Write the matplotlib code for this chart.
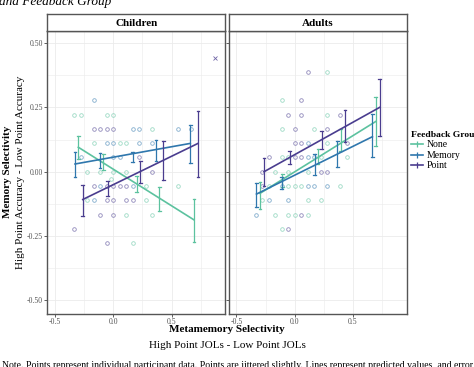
import matplotlib
matplotlib.use("Agg")
import matplotlib.pyplot as plt
from matplotlib.lines import Line2D

plt.rcParams['font.family'] = ['Liberation Serif', 'DejaVu Serif']

groups = ["None", "Memory", "Point"]
colors = {"None": "#5cc29f", "Memory": "#2f77ad", "Point": "#4a3d8f"}
panels = ["Children", "Adults"]

# ---- individual points (x, y) per panel and group ----
s = 1 / 18
child_pts = {
    "None": ([-6*s, -5*s, -1*s, 0, 6*s, -3*s, 1*s, 2*s, -4*s, -2*s, 0, 2*s, -0.02,
              5*s, 10*s, -4*s, 5*s, 2*s, 6*s, 3*s],
             [4*s, 4*s, 4*s, 4*s, 3*s, 2*s, 2*s, 2*s, 0, 0, 0, 0, -0.03,
              -1*s, -1*s, -2*s, -2*s, -3*s, -3*s, -5*s]),
    "Memory": ([-3*s, 3*s, 4*s, 10*s, 12*s, -1*s, 0, 4*s, 6*s, -5*s, 0, 1*s,
                -2*s, 3*s, -3*s],
               [5*s, 3*s, 3*s, 3*s, 3*s, 2*s, 2*s, 2*s, 2*s, 1*s, 1*s, 1*s,
                -1*s, -1*s, -2*s]),
    "Point": ([-3*s, -2*s, -1*s, 0, 4*s, 6*s, -3*s, -1*s, 0, 1*s, 2*s, -1*s, 0, 2*s,
               3*s, -2*s, 0, -6*s, -1*s],
              [3*s, 3*s, 3*s, 3*s, 1*s, 0, -1*s, -1*s, -1*s, -1*s, -1*s, -2*s, -2*s, -2*s,
               -2*s, -3*s, -3*s, -4*s, -5*s]),
}
adult_pts = {
    "None": ([5*s, -2*s, 5*s, -2*s, 3*s, 5*s, -2*s, -1*s, 4*s, 8*s, -3*s, -1*s, 2*s,
              -4*s, -1*s, 0, 1*s, 7*s, -5*s, 2*s, 4*s, -3*s, -1*s, 0, 2*s, -2*s],
             [7*s, 5*s, 4*s, 3*s, 3*s, 2*s, 1*s, 1*s, 1*s, 1*s, 0, 0, 0,
              -1*s, -1*s, -1*s, -1*s, -1*s, -2*s, -2*s, -2*s, -3*s, -3*s, -3*s, -3*s, -4*s]),
    "Memory": ([2*s, 2*s, 3*s, -2*s, 2*s, 3*s, 5*s, -4*s, -1*s, -6*s],
               [2*s, 1*s, 1*s, -1*s, -1*s, -1*s, -1*s, -2*s, -2*s, -3*s]),
    "Point": ([2*s, 1*s, -1*s, 1*s, 7*s, 0, 5*s, 0, 1*s, 8*s, -4*s, 0, 1*s, -5*s,
               4*s, 5*s, -5*s, 1*s, -1*s],
              [7*s, 5*s, 4*s, 4*s, 4*s, 3*s, 3*s, 2*s, 2*s, 2*s, 1*s, 1*s, 1*s, 0,
               0, 0, -1*s, -3*s, -4*s]),
}
child_outlier = (0.87, 0.44)

# ---- fitted lines: (x_start, y_start, x_end, y_end) ----
child_lines = {"None": (-0.30, 0.095, 0.691, -0.187),
               "Memory": (-0.328, 0.030, 0.66, 0.110),
               "Point": (-0.262, -0.108, 0.726, 0.110)}
adult_lines = {"None": (-0.297, -0.084, 0.694, 0.195),
               "Memory": (-0.328, -0.087, 0.666, 0.136),
               "Point": (-0.263, 0.0, 0.728, 0.25)}

# ---- error bars: x, low, high ----
child_err = {
    "None": ([-0.30, -0.086, 0.20, 0.394, 0.691],
             [0.049, 0.007, -0.080, -0.154, -0.272],
             [0.140, 0.069, -0.016, -0.058, -0.106]),
    "Memory": ([-0.328, -0.114, 0.166, 0.366, 0.66],
               [-0.022, 0.014, 0.039, 0.043, 0.032],
               [0.078, 0.074, 0.078, 0.125, 0.182]),
    "Point": ([-0.262, -0.048, 0.232, 0.429, 0.726],
              [-0.171, -0.095, -0.044, -0.032, -0.019],
              [-0.051, -0.035, 0.043, 0.118, 0.235]),
}
adult_err = {
    "None": ([-0.297, -0.106, 0.20, 0.394, 0.694],
             [-0.143, -0.058, 0.030, 0.082, 0.101],
             [-0.041, -0.009, 0.088, 0.166, 0.292]),
    "Memory": ([-0.328, -0.111, 0.171, 0.366, 0.666],
               [-0.136, -0.067, -0.012, 0.017, 0.056],
               [-0.044, -0.019, 0.069, 0.121, 0.224]),
    "Point": ([-0.263, -0.043, 0.231, 0.431, 0.728],
              [-0.054, 0.030, 0.088, 0.117, 0.140],
              [0.053, 0.082, 0.160, 0.240, 0.361]),
}

yticks = [-0.50, -0.25, 0.00, 0.25, 0.50]
ytick_labels = ["-0.50", "-0.25", "0.00", "0.25", "0.50"]
xticks = [-0.5, 0.0, 0.5]
xtick_labels = ["-0.5", "0.0", "0.5"]

W, H = 474, 367
fig = plt.figure(figsize=(W / 100, H / 100), dpi=100)

def fx(px):
    return px / W

def fy(py):
    return 1 - py / H

panel_left = [47.3, 228.7]
panel_w = 178.0
top, bottom = 30.7, 314.0
strip_top = 14.0

data = [(child_pts, child_lines, child_err), (adult_pts, adult_lines, adult_err)]
border = "#555555"
for i, name in enumerate(panels):
    ax = fig.add_axes([fx(panel_left[i]), fy(bottom), fx(panel_w), (bottom - top) / H])
    pts, lines, errs = data[i]
    ax.set_xlim(-0.566, 0.96)
    ax.set_ylim(-0.553, 0.548)
    for gx in [-0.5, -0.25, 0, 0.25, 0.5, 0.75]:
        ax.axvline(gx, color="#ebebeb", lw=0.6 if gx in xticks else 0.4, zorder=0)
    for gy in [-0.5, -0.375, -0.25, -0.125, 0, 0.125, 0.25, 0.375, 0.5]:
        ax.axhline(gy, color="#ebebeb", lw=0.6 if gy in yticks else 0.4, zorder=0)
    for g in groups:
        xs, ys = pts[g]
        ax.plot(xs, ys, linestyle="none", marker="o", markersize=2.6,
                markerfacecolor="none", markeredgecolor=colors[g],
                markeredgewidth=0.6, alpha=0.6, zorder=2)
    if i == 0:
        ax.plot([child_outlier[0]], [child_outlier[1]], linestyle="none", marker="x",
                markersize=2.6, color=colors["Point"], markeredgewidth=0.6, alpha=0.8)
    for g in groups:
        x0, y0, x1, y1 = lines[g]
        ax.plot([x0, x1], [y0, y1], color=colors[g], lw=1.2, zorder=3)
        ex, lo, hi = errs[g]
        for xv, l, h in zip(ex, lo, hi):
            ax.plot([xv, xv], [l, h], color=colors[g], lw=0.9, zorder=3)
            ax.plot([xv - 0.012, xv + 0.012], [l, l], color=colors[g], lw=0.9, zorder=3)
            ax.plot([xv - 0.012, xv + 0.012], [h, h], color=colors[g], lw=0.9, zorder=3)
    ax.set_xticks(xticks)
    ax.set_xticklabels(xtick_labels)
    ax.set_yticks(yticks)
    if i == 0:
        ax.set_yticklabels(ytick_labels)
    else:
        ax.set_yticklabels([])
        ax.tick_params(axis="y", length=0)
    ax.tick_params(labelsize=5.6, labelcolor="#555555", color="#444444", length=2, width=0.6, pad=1.2)
    for sp in ax.spines.values():
        sp.set_color(border)
        sp.set_linewidth(1.0)
    # strip
    sax = fig.add_axes([fx(panel_left[i]), fy(top), fx(panel_w), (top - strip_top) / H])
    sax.set_xticks([])
    sax.set_yticks([])
    sax.set_facecolor("white")
    for sp in sax.spines.values():
        sp.set_color(border)
        sp.set_linewidth(1.0)
    sax.text(0.5, 0.45, name, ha="center", va="center", fontsize=8, fontweight="bold",
             transform=sax.transAxes)

# axis titles
fig.text(fx(8), fy(172), "Memory Selectivity", rotation=90, ha="center", va="center",
         fontsize=8, fontweight="bold")
fig.text(fx(21), fy(172), "High Point Accuracy - Low Point Accuracy", rotation=90,
         ha="center", va="center", fontsize=8)
fig.text(fx(227), fy(330), "Metamemory Selectivity", ha="center", va="center",
         fontsize=8, fontweight="bold")
fig.text(fx(227), fy(345), "High Point JOLs - Low Point JOLs", ha="center", va="center",
         fontsize=8)

# legend
handles = [Line2D([0], [0], color=colors[g], lw=1.2, marker="|", markersize=4,
                  markeredgewidth=0.9) for g in groups]
leg = fig.legend(handles, groups, title="Feedback Group", loc="upper left",
                 bbox_to_anchor=(fx(411), fy(131)), frameon=False, fontsize=7,
                 title_fontproperties={"weight": "bold", "size": 6.8},
                 handlelength=1.2, handletextpad=0.4, labelspacing=0.15,
                 borderaxespad=0, borderpad=0)
leg._legend_box.align = "left"

# cropped caption fragments
fig.text(fx(-1), fy(5), "and Feedback Group", ha="left", va="baseline", fontsize=9.5,
         style="italic")
fig.text(fx(2), fy(361), "Note. Points represent individual participant data. Points are jittered slightly. Lines represent predicted values, and error bars",
         ha="left", va="top", fontsize=7)

fig.savefig("out.png", dpi=100)
